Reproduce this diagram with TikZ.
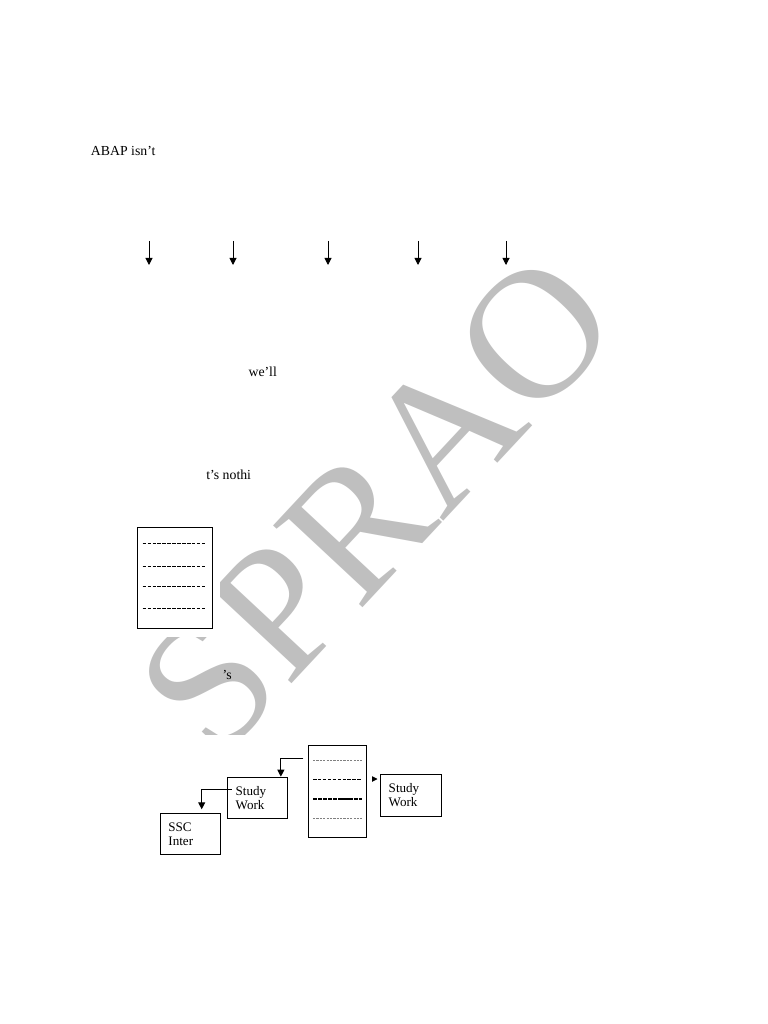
\documentclass[tikz,border=0pt]{standalone}
\usepackage{fontspec}
\setmainfont{Liberation Serif}
\usetikzlibrary{arrows.meta,positioning,calc}

\begin{document}
\begin{tikzpicture}[
        x=0.025cm, y=-0.025cm,
        wmark/.style={text=black!25, inner sep=0pt, rotate=47, font=\fontsize{131.6pt}{140pt}\selectfont},
        word/.style={anchor=base west, inner sep=0pt, font=\fontsize{9.8pt}{12pt}\selectfont},
        card/.style={draw, line width=0.6pt, anchor=north west, align=left, inner xsep=0.2cm, inner ysep=0pt,
            text width=1.1cm, minimum height=1.04cm, font=\fontsize{9.3pt}{10.2pt}\selectfont},
        list/.style={draw, line width=0.6pt, anchor=north west, inner sep=0pt},
        rule/.style={line width=0.6pt, dash pattern=on 2.5pt off 1pt},
        faint/.style={line width=0.4pt, gray, dash pattern=on 1.6pt off 0.8pt},
        arrow/.style={line width=0.7pt, -{Triangle[length=5pt,width=5pt]}},
        tip/.style={line width=0.6pt, -{Triangle[length=3.8pt,width=3.8pt]}}
    ]
    \useasboundingbox (0,0) rectangle (768,1024);

    % watermark behind the page
    \begin{scope}
        \clip (0,0) -- (768,0) -- (768,734) -- (0,734) -- (0,637) -- (220,637) -- (220,500) -- (0,500) -- cycle;
        \node[wmark] (mark) at (377,504) {SPRAO};
    \end{scope}

    % text fragments
    \node[word] (abap) at (90.7,155.5) {ABAP isn’t};
    \node[word] (well) at (248.3,376) {we’ll};
    \node[word] (nothi) at (206,479.3) {t’s nothi};
    \node[word] (apos) at (222.3,679.3) {’s};

    % row of arrows
    \foreach \x [count=\i] in {149,233,328,418,506}
    {
        \coordinate (t\i) at (\x,241);
        \coordinate (h\i) at (\x,265);
        \draw[arrow] (t\i) -- (h\i);
    }

    % page with lines
    \node[list, minimum width=1.875cm, minimum height=2.525cm] (page) at (136.7,527.3) {};
    \foreach \y in {16,38.7,59.4,81}
        \draw[rule] ($(page.north west)+(6,\y)$) -- ++(62.3,0);

    % bottom diagram
    \node[list, minimum width=1.44cm, minimum height=2.29cm] (feed) at (308.3,745) {};
    \draw[faint] ($(feed.north west)+(4.7,15)$) -- ++(49,0);
    \draw[rule] ($(feed.north west)+(4.7,34)$) -- ++(49,0);
    \draw[rule, line width=0.8pt, dash pattern=on 3pt off 0.6pt] ($(feed.north west)+(4.7,54)$) -- ++(49,0);
    \draw[faint] ($(feed.north west)+(4.7,73)$) -- ++(49,0);

    \node[card] (mid) at (227.3,776.7) {Study\\Work};
    \node[card] (ssc) at (160,812.7) {SSC\\Inter};
    \node[card, minimum width=1.54cm] (res) at (379.5,774) {Study\\Work};

    \draw[arrow] ($(feed.north west)+(-5,13.3)$) -| ($(mid.north east)+(-7.3,0)$);
    \draw[arrow] ($(mid.north west)+(4.4,12.6)$) -| ($(ssc.north west)+(41.7,-3.4)$);
    \draw[tip] ($(res.north west)+(-7.5,5)$) -- ($(res.north west)+(-2,5)$);
\end{tikzpicture}
\end{document}
